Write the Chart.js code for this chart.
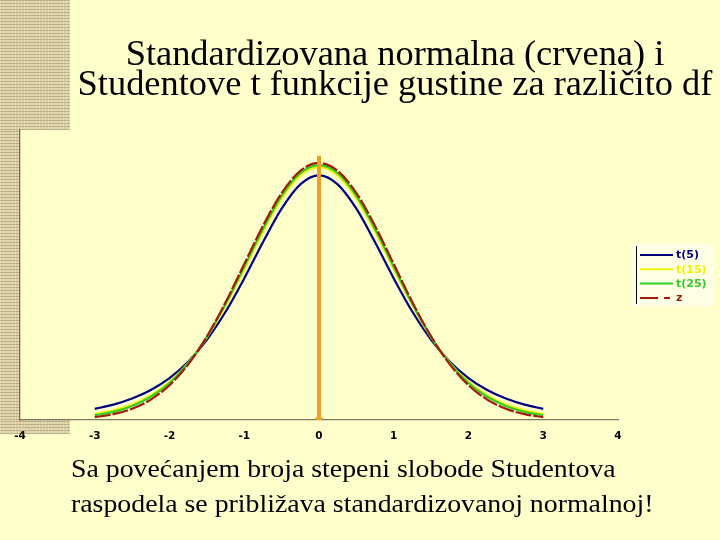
<!DOCTYPE html>
<html>
<head>
<meta charset="utf-8">
<script src="https://cdn.jsdelivr.net/npm/chart.js@4"></script>
<style>
  html, body { margin: 0; padding: 0; }
  body { width: 720px; height: 540px; background: #FFFFCC; position: relative; overflow: hidden; }
  .tex {
    position: absolute;
    background-color: #DDD0A6;
    background-image:
      repeating-linear-gradient(0deg, rgba(150,130,85,0.45) 0 1px, transparent 1px 3px),
      repeating-linear-gradient(90deg, rgba(245,238,205,0.55) 0 1px, transparent 1px 3px);
  }
  #wrap { position: absolute; left: 0; top: 0; width: 720px; height: 540px; }
</style>
</head>
<body>
<div class="tex" style="left:0;top:0;width:70px;height:130px"></div>
<div class="tex" style="left:0;top:130px;width:20px;height:290px"></div>
<div class="tex" style="left:0;top:420px;width:70px;height:14px"></div>

<div id="wrap"><canvas id="densityChart" width="720" height="540"></canvas></div>

<div style="position:absolute;left:70px;width:650px;top:39px;font-family:'Liberation Serif';font-size:35px;line-height:30px;text-align:center;color:#000;transform:scaleX(1.04);transform-origin:50% 0">Standardizovana normalna (crvena) i<br>Studentove t funkcije gustine za različito df</div>
<div style="position:absolute;left:71px;top:451px;font-family:'Liberation Serif';font-size:26px;line-height:35px;color:#000;white-space:nowrap;transform:scaleX(1.07);transform-origin:0 0">Sa povećanjem broja stepeni slobode Studentova<br>raspodela se približava standardizovanoj normalnoj!</div>

<script>
// x positions read along the axis
let xValues = [-3, -2.75, -2.5, -2.25, -2, -1.75, -1.5, -1.25, -1, -0.75, -0.5, -0.25, 0,
               0.25, 0.5, 0.75, 1, 1.25, 1.5, 1.75, 2, 2.25, 2.5, 2.75, 3];

// density values for each curve
let t5Values = [0.0173, 0.0239, 0.0333, 0.0466, 0.0651, 0.0905, 0.1245, 0.1679, 0.2197, 0.2757, 0.3279, 0.3657, 0.3796,
                0.3657, 0.3279, 0.2757, 0.2197, 0.1679, 0.1245, 0.0905, 0.0651, 0.0466, 0.0333, 0.0239, 0.0173];
let t15Values = [0.0091, 0.0150, 0.0242, 0.0383, 0.0592, 0.0887, 0.1283, 0.1776, 0.2341, 0.2922, 0.3437, 0.3795, 0.3923,
                 0.3795, 0.3437, 0.2922, 0.2341, 0.1776, 0.1283, 0.0887, 0.0592, 0.0383, 0.0242, 0.0150, 0.0091];
let t25Values = [0.0073, 0.0127, 0.0218, 0.0360, 0.0574, 0.0881, 0.1291, 0.1799, 0.2376, 0.2963, 0.3476, 0.3830, 0.3956,
                 0.3830, 0.3476, 0.2963, 0.2376, 0.1799, 0.1291, 0.0881, 0.0574, 0.0360, 0.0218, 0.0127, 0.0073];
let zValues = [0.0044, 0.0091, 0.0175, 0.0317, 0.0540, 0.0863, 0.1295, 0.1826, 0.2420, 0.3011, 0.3521, 0.3867, 0.3989,
               0.3867, 0.3521, 0.3011, 0.2420, 0.1826, 0.1295, 0.0863, 0.0540, 0.0317, 0.0175, 0.0091, 0.0044];

// orange marker at the mean (bottom point, top point)
let meanLineX = [0, 0];
let meanLineY = [0, 0.41];

// x axis tick labels
let tickLabels = ["-4", "-3", "-2", "-1", "0", "1", "2", "3", "4"];

function toPoints(xs, ys) {
    return xs.map((x, i) => ({ x: x, y: ys[i] }));
}

function curve(label, ys, color, order, dash) {
    return {
        label: label,
        data: toPoints(xValues, ys),
        borderColor: color,
        borderWidth: 2.2,
        borderDash: dash || [],
        pointRadius: 0,
        cubicInterpolationMode: "monotone",
        fill: false,
        order: order
    };
}

// draws the small legend box on the right side
const legendBox = {
    id: "legendBox",
    afterDraw(chart) {
        const ctx = chart.ctx;
        const items = chart.data.datasets.filter(d => d.inLegend);
        ctx.save();
        ctx.fillStyle = "#FFFFE6";
        ctx.fillRect(632, 244, 82, 62);
        ctx.strokeStyle = "#000";
        ctx.lineWidth = 1;
        ctx.beginPath();
        ctx.moveTo(636.5, 246);
        ctx.lineTo(636.5, 304);
        ctx.stroke();
        ctx.font = "bold 11px 'DejaVu Sans'";
        ctx.textBaseline = "middle";
        items.forEach((d, i) => {
            const y = 255 + i * 14.3;
            ctx.strokeStyle = d.borderColor;
            ctx.lineWidth = 2;
            ctx.setLineDash(d.legendDash || []);
            ctx.beginPath();
            ctx.moveTo(640, y);
            ctx.lineTo(673, y);
            ctx.stroke();
            ctx.setLineDash([]);
            ctx.fillStyle = d.borderColor;
            ctx.fillText(d.label, 676, y + 0.5);
        });
        ctx.restore();
    }
};

let t5Set = curve("t(5)", t5Values, "#000080", 4);
let t15Set = curve("t(15)", t15Values, "#F2F200", 3);
let t25Set = curve("t(25)", t25Values, "#33CC22", 2);
let zSet = curve("z", zValues, "#A01C08", 1, [16, 2]);
[t5Set, t15Set, t25Set, zSet].forEach(d => d.inLegend = true);
zSet.legendDash = [18, 6, 6, 6];

let meanSet = {
    label: "mean",
    data: toPoints(meanLineX, meanLineY),
    borderColor: "#F0A020",
    backgroundColor: "#F0A020",
    borderWidth: 4,
    pointStyle: "triangle",
    pointRotation: 180,
    pointRadius: [4, 0],
    pointBorderWidth: 1,
    order: 0
};

let chartElement = document.getElementById("densityChart");
let densityChart = new Chart(chartElement.getContext("2d"), {
    type: "line",
    data: { datasets: [t5Set, t15Set, t25Set, zSet, meanSet] },
    options: {
        responsive: false,
        animation: false,
        layout: { padding: { left: 20, right: 102, top: 130, bottom: 90 } },
        plugins: {
            legend: { display: false },
            tooltip: { enabled: false }
        },
        scales: {
            x: {
                type: "linear",
                min: -4,
                max: 4,
                afterFit: (scale) => { scale.height = 30; },
                grid: { display: false },
                border: { color: "#7A7A5E", width: 1.3 },
                ticks: {
                    stepSize: 1,
                    autoSkip: false,
                    maxRotation: 0,
                    minRotation: 0,
                    padding: 2,
                    color: "#000",
                    font: { family: "DejaVu Sans", weight: "bold", size: 10.5 },
                    callback: (v, i) => tickLabels[i]
                }
            },
            y: {
                min: 0,
                max: 0.45,
                afterFit: (scale) => { scale.width = 0; },
                grid: { display: false },
                border: { color: "#6E6E55", width: 1.3 },
                ticks: { display: false }
            }
        }
    },
    plugins: [legendBox]
});
</script>
</body>
</html>
